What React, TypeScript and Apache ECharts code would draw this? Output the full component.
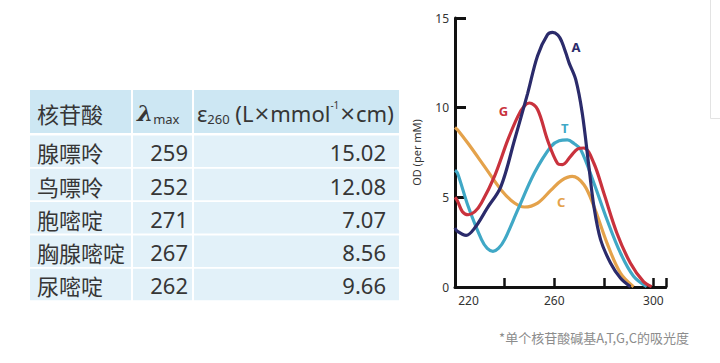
import React, { useEffect, useRef } from 'react';
import * as echarts from 'echarts';

// ---------- Table data ----------
const tableHeader = ['核苷酸', 'λmax', 'ε260 (L×mmol-1×cm)'];
const nucleosides = ['腺嘌呤', '鸟嘌呤', '胞嘧啶', '胸腺嘧啶', '尿嘧啶'];
const lambdaMax = [259, 252, 271, 267, 262];
const epsilon260 = [15.02, 12.08, 7.07, 8.56, 9.66];

// ---------- Chart data ----------
const seriesNames = ['A', 'G', 'T', 'C'];
const xTickLabels = [220, 260, 300];
const curveA: number[][] = [
  [220, 3.3], [221, 3.1], [224.5, 2.88], [228, 3.3], [233, 4.4], [238.5, 5.6], [244, 8.2],
  [249.3, 10.8], [253.3, 12.9], [257.3, 14.07], [259.3, 14.2], [261.5, 14.05], [263, 13.7],
  [264.7, 13.05], [266, 12.5], [268.7, 11.56], [271.3, 9.7], [274, 6.7], [276, 4.5],
  [278.7, 2.64], [282.7, 1.34], [286.7, 0.5], [290.7, 0.02],
];
const curveG: number[][] = [
  [220, 5.0], [221, 4.8], [223, 4.2], [225.3, 4.03], [228, 4.2], [230.7, 4.7], [236, 6.2],
  [241.3, 8.2], [245.3, 9.5], [248, 10.1], [250, 10.26], [253.3, 9.9], [257.3, 8.2],
  [261.3, 6.9], [263.3, 6.82], [266.7, 7.3], [269.5, 7.7], [272, 7.75], [276, 6.9],
  [280, 5.24], [285.3, 3.0], [290.7, 1.34], [296, 0.3], [299.3, 0.02],
];
const curveT: number[][] = [
  [220, 6.5], [221, 6.36], [225.3, 4.5], [230.7, 2.64], [233, 2.15], [235.3, 1.99],
  [237.5, 2.15], [240, 2.64], [245.3, 4.3], [252, 6.36], [258.7, 7.84], [262, 8.15],
  [265.3, 8.2], [268, 8.0], [270.7, 7.66], [276, 5.8], [281.3, 3.75], [286.7, 1.9],
  [292, 0.6], [297.3, 0.02],
];
const curveC: number[][] = [
  [220, 8.9], [221, 8.77], [225.3, 8.0], [232, 6.7], [238.7, 5.4], [244, 4.68], [248, 4.46],
  [253.3, 4.68], [258.7, 5.4], [263, 5.95], [267.3, 6.17], [272, 5.7], [276, 4.5],
  [281.3, 2.45], [286.7, 0.78], [292, 0.02],
];
const curves = [curveA, curveG, curveT, curveC];
const labelPositions: number[][] = [
  [268.8, 13.4], [239.5, 9.8], [264.3, 8.85], [262.8, 4.75],
];
const caption = '*单个核苷酸碱基A,T,G,C的吸光度';

const colors = ['#2b2b6b', '#c9323d', '#40a8c6', '#e4a24b'];

const CJK = '"Noto Sans CJK SC", "Noto Sans", sans-serif';
const SANS = '"Noto Sans", "Noto Sans CJK SC", sans-serif';

function buildTable(): any[] {
  const els: any[] = [];
  const colX = [30, 133, 194];
  const colW = [101, 59, 205];
  const headerTop = 90;
  const headerH = 43;
  const rowTop0 = 135.5;
  const rowH = 31.5;
  const rowPitch = 33.3;
  const textColor = '#363636';

  for (let c = 0; c < 3; c++) {
    els.push({
      type: 'rect',
      shape: { x: colX[c], y: headerTop, width: colW[c], height: headerH },
      style: { fill: '#cde7f3' },
      silent: true,
    });
  }
  const hy = headerTop + headerH / 2 + 1;
  els.push({
    type: 'text', x: 37, y: hy, silent: true,
    style: { text: tableHeader[0], fill: textColor, fontSize: 22, fontFamily: CJK, verticalAlign: 'middle', align: 'left' },
  });
  els.push({
    type: 'text', x: 137, y: hy, silent: true,
    style: {
      text: '{l|λ}{s|max}', verticalAlign: 'middle', align: 'left', fill: textColor,
      rich: {
        l: { fontSize: 23, fontFamily: '"DejaVu Serif", serif', fontStyle: 'italic', fontWeight: 'bold', fill: textColor, lineHeight: 26, verticalAlign: 'middle' },
        s: { fontSize: 13, fontFamily: SANS, fill: textColor, lineHeight: 14, verticalAlign: 'bottom' },
      },
    },
  });
  els.push({
    type: 'text', x: 197, y: hy, silent: true,
    style: {
      text: '{m|ε}{s|260}{m| (L}{x|×}{m|mmol}{p|-1}{x|×}{m|cm)}', verticalAlign: 'middle', align: 'left', fill: textColor,
      rich: {
        m: { fontSize: 22, fontFamily: SANS, fill: textColor, lineHeight: 26, verticalAlign: 'middle' },
        x: { fontSize: 20, fontFamily: '"DejaVu Sans", sans-serif', fill: textColor, lineHeight: 26, verticalAlign: 'middle' },
        s: { fontSize: 13, fontFamily: SANS, fill: textColor, lineHeight: 14, verticalAlign: 'bottom' },
        p: { fontSize: 10, fontFamily: SANS, fill: textColor, lineHeight: 12, verticalAlign: 'top' },
      },
    },
  });

  for (let r = 0; r < nucleosides.length; r++) {
    const top = rowTop0 + r * rowPitch;
    for (let c = 0; c < 3; c++) {
      els.push({
        type: 'rect',
        shape: { x: colX[c], y: top, width: colW[c], height: rowH },
        style: { fill: '#e2f1f9' },
        silent: true,
      });
    }
    const cy = top + rowH / 2 + 1;
    els.push({
      type: 'text', x: 37, y: cy, silent: true,
      style: { text: nucleosides[r], fill: textColor, fontSize: 22, fontFamily: CJK, verticalAlign: 'middle', align: 'left' },
    });
    els.push({
      type: 'text', x: 188, y: cy, silent: true,
      style: { text: String(lambdaMax[r]), fill: textColor, fontSize: 22, fontFamily: SANS, verticalAlign: 'middle', align: 'right' },
    });
    els.push({
      type: 'text', x: 386, y: cy, silent: true,
      style: { text: epsilon260[r].toFixed(2), fill: textColor, fontSize: 22, fontFamily: SANS, verticalAlign: 'middle', align: 'right' },
    });
  }
  return els;
}

export default function App() {
  const ref = useRef<HTMLDivElement>(null);

  useEffect(() => {
    const chart = echarts.init(ref.current!, null, { renderer: 'svg' });
    const option: any = {
      animation: false,
      backgroundColor: '#ffffff',
      grid: { left: 455, top: 18, width: 210.8, height: 269, containLabel: false },
      xAxis: {
        type: 'value',
        min: 220,
        max: 305,
        interval: 20,
        splitLine: { show: false },
        axisLine: { show: true, lineStyle: { color: '#111', width: 3 } },
        axisTick: { show: true, inside: true, length: 9, lineStyle: { color: '#111', width: 2.5 } },
        axisLabel: {
          color: '#333',
          fontSize: 12,
          fontFamily: SANS,
          margin: 7,
          formatter: (v: number) => {
            if (!xTickLabels.includes(v)) return '';
            return v === xTickLabels[0] ? '{f|' + v + '}' : String(v);
          },
          rich: { f: { fontSize: 12, fontFamily: SANS, color: '#333', padding: [0, 0, 0, 27] } },
        },
      },
      yAxis: {
        type: 'value',
        min: 0,
        max: 15,
        interval: 5,
        name: 'OD (per mM)',
        nameLocation: 'middle',
        nameGap: 33,
        nameRotate: 90,
        nameTextStyle: { color: '#333', fontSize: 11, fontFamily: SANS },
        splitLine: { show: false },
        axisLine: { show: true, lineStyle: { color: '#111', width: 3 } },
        axisTick: { show: true, inside: true, length: 11, lineStyle: { color: '#111', width: 3 } },
        axisLabel: { color: '#333', fontSize: 12, fontFamily: SANS, margin: 6 },
      },
      series: curves.map((d, i) => ({
        name: seriesNames[i],
        type: 'line',
        data: d,
        smooth: 0.35,
        showSymbol: false,
        symbol: 'none',
        clip: true,
        z: 5 - i,
        lineStyle: { color: colors[i], width: 3.2 },
        itemStyle: { color: colors[i] },
        markPoint: {
          symbol: 'circle',
          symbolSize: 1,
          itemStyle: { color: 'rgba(0,0,0,0)' },
          label: {
            show: true,
            position: 'inside',
            formatter: seriesNames[i],
            color: colors[i],
            fontSize: 13,
            fontWeight: 'bold',
            fontFamily: SANS,
          },
          data: [{ coord: labelPositions[i] }],
        },
      })),
      graphic: [
        ...buildTable(),
        {
          type: 'text', x: 689, y: 337, silent: true,
          style: { text: caption, fill: '#8c8c8c', fontSize: 13, fontFamily: CJK, align: 'right', verticalAlign: 'middle' },
        },
        {
          type: 'polyline', silent: true,
          shape: { points: [[710.5, 0], [710.5, 118.5], [720, 118.5]] },
          style: { stroke: '#e3e3e3', lineWidth: 1, fill: 'none' },
        },
      ],
    };
    chart.setOption(option);
    return () => chart.dispose();
  }, []);

  return (
    <div
      ref={ref}
      style={{ position: 'fixed', left: 0, top: 0, width: 720, height: 363, background: '#fff' }}
    />
  );
}
